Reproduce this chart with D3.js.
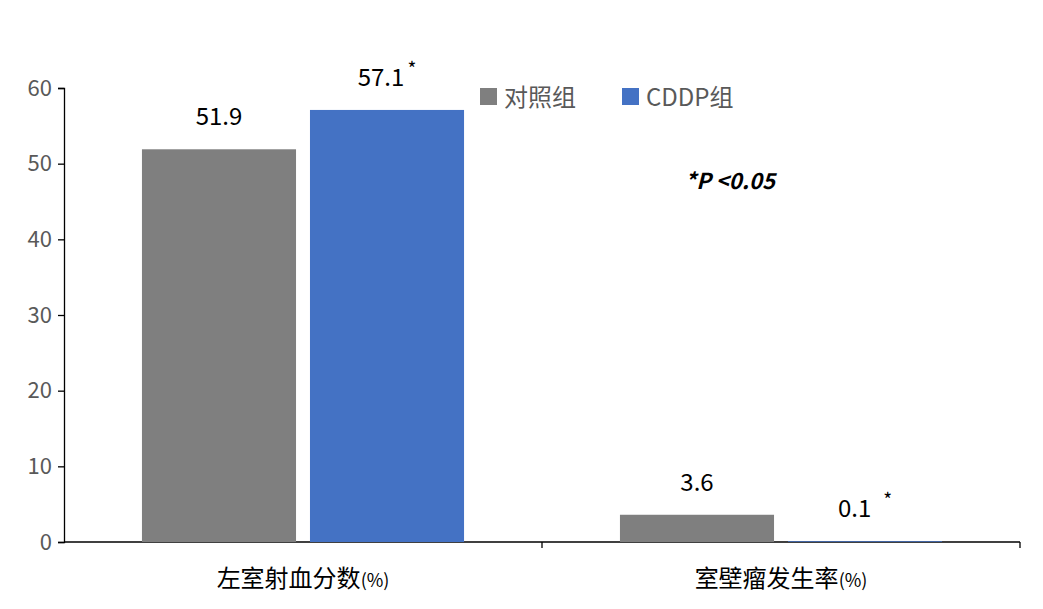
<!DOCTYPE html>
<html><head><meta charset="utf-8">
<script src="https://cdn.jsdelivr.net/npm/d3@7"></script>
<style>body{margin:0;background:#fff}</style>
</head><body>
<svg id="chart" width="1043" height="609"></svg>
<script>
// 数据
const categories = ["左室射血分数", "室壁瘤发生率"];
const series = ["对照组", "CDDP组"];
const controlValues = [51.9, 3.6];
const cddpValues = [57.1, 0.1];
const significant = [true, true]; // CDDP组 * 标记
const yTicks = [0, 10, 20, 30, 40, 50, 60];

const colors = ["#7f7f7f", "#4472c4"];
const font = "'Noto Sans CJK SC', 'Noto Sans', sans-serif";

const svg = d3.select("#chart");
const margin = {left: 64, right: 23, top: 88, bottom: 67};
const width = 1043 - margin.left - margin.right;
const height = 609 - margin.top - margin.bottom;
const g = svg.append("g").attr("transform", `translate(${margin.left},${margin.top})`);

const x0 = d3.scaleBand().domain(categories).range([0, width]);
const x1 = d3.scaleBand().domain(series).range([0, x0.bandwidth()]).paddingInner(0.083).paddingOuter(0.464);
const y = d3.scaleLinear().domain([0, 60]).range([height, 0]);

// y 轴
const yAxis = g.append("g").call(d3.axisLeft(y).tickValues(yTicks).tickSize(6).tickPadding(6));
yAxis.selectAll("text").attr("font-family", font).attr("font-size", 22).attr("fill", "#595959");
yAxis.selectAll("line,path").attr("stroke", "#000").attr("stroke-width", 1.3);

// x 轴
g.append("line").attr("x1", 0).attr("x2", width).attr("y1", height).attr("y2", height)
    .attr("stroke", "#000").attr("stroke-width", 1.3);
[x0.bandwidth(), width].forEach(px => {
    g.append("line").attr("x1", px).attr("x2", px).attr("y1", height).attr("y2", height + 6)
        .attr("stroke", "#000").attr("stroke-width", 1.3);
});
categories.forEach(c => {
    const t = g.append("text").attr("x", x0(c) + x0.bandwidth() / 2).attr("y", height + 45)
        .attr("text-anchor", "middle").attr("font-family", font).attr("fill", "#000");
    t.append("tspan").attr("font-size", 24).text(c);
    t.append("tspan").attr("font-size", 18).text("(%)");
});

// 柱
const rows = categories.map((c, i) => ({cat: c, vals: [controlValues[i], cddpValues[i]], sig: significant[i]}));
rows.forEach(r => {
    r.vals.forEach((v, j) => {
        const bx = x0(r.cat) + x1(series[j]);
        g.append("rect").attr("x", bx).attr("y", y(v)).attr("width", x1.bandwidth())
            .attr("height", y(0) - y(v)).attr("fill", colors[j]);
        const t = g.append("text").attr("x", bx + x1.bandwidth() / 2).attr("y", y(v) - 24)
            .attr("text-anchor", "middle").attr("font-family", font).attr("font-size", 24).attr("fill", "#000");
        t.append("tspan").text(v.toFixed(1));
        if (j === 1 && r.sig) {
            t.append("tspan").attr("font-size", 19).attr("dx", v < 1 ? 12 : 3).attr("dy", -10).text("*");
        }
    });
});

// 图例
const legend = svg.append("g").attr("transform", "translate(480,88)");
series.forEach((s, i) => {
    const lg = legend.append("g").attr("transform", `translate(${i * 142},0)`);
    lg.append("rect").attr("width", 17).attr("height", 17).attr("fill", colors[i]);
    lg.append("text").attr("x", 24).attr("y", 18).attr("font-family", font).attr("font-size", 24)
        .attr("fill", "#595959").text(s);
});

// 显著性注释
svg.append("text").attr("x", 685).attr("y", 189).attr("font-family", font).attr("font-size", 22)
    .attr("font-weight", "bold").attr("font-style", "italic").attr("fill", "#000").text("*P <0.05");
</script>
</body></html>
